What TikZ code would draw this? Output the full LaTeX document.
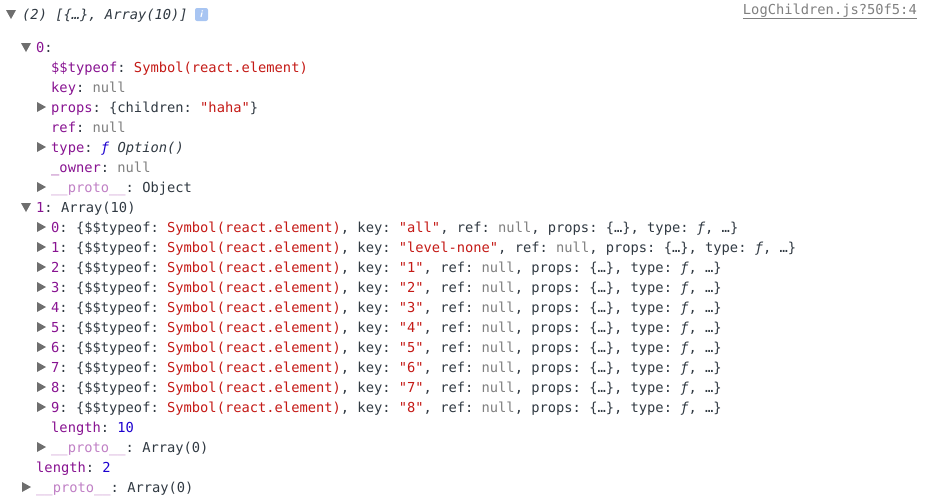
\documentclass[tikz,border=0pt]{standalone}
\usepackage{fontspec}
\setmonofont{DejaVu Sans Mono}
\definecolor{kp}{HTML}{881391}
\definecolor{pp}{HTML}{C080C5}
\definecolor{gr}{HTML}{808080}
\definecolor{rd}{HTML}{C41A16}
\definecolor{bl}{HTML}{1C00CF}
\definecolor{tri}{HTML}{6E6E6E}
\definecolor{dk}{HTML}{303942}
\definecolor{ib}{HTML}{A8C5F2}
\newcommand\K[1]{\textcolor{kp}{#1}}
\newcommand\PP[1]{\textcolor{pp}{#1}}
\newcommand\NU{\textcolor{gr}{null}}
\newcommand\RS[1]{\textcolor{rd}{#1}}
\newcommand\BL[1]{\textcolor{bl}{#1}}
\newcommand\SYM{\RS{Symbol(react.element)}}
\newcommand\ROW[2]{\K{#1}: \{\$\$typeof: \SYM, key: \RS{"#2"}, ref: \NU, props: \{…\}, type: \textit{ƒ}, …\}}
\begin{document}
\begin{tikzpicture}[x=1pt,y=-1pt,
  ln/.style={anchor=base west,inner sep=0pt,text=dk,font=\ttfamily\fontsize{13.75}{16}\selectfont},
  tr/.style={fill=tri,draw=none}]
\useasboundingbox (0,0) rectangle (935,498);
\newcommand\TD[2]{\fill[tri] (#1-5,#2-4) -- (#1+5,#2-4) -- (#1,#2+5) -- cycle;}
\newcommand\TR[2]{\fill[tri] (#1-4,#2-5) -- (#1+5,#2) -- (#1-4,#2+5) -- cycle;}
% header
\TD{11}{14}
\node[ln] (h) at (22,19) {\textit{(2) [\{…\}, Array(10)]}};
\fill[ib,rounded corners=2] (195,8) rectangle (208,21);
\node[font=\sffamily\bfseries\fontsize{10}{10}\selectfont,text=white,inner sep=0pt] (info) at (201.5,14.5) {\textit{i}};
\node[ln,anchor=base east,text=gr] (src) at (917,14) {LogChildren.js?50f5:4};
\draw[gr,line width=0.6] (src.south west) ++(0,1.5) -- ++(174,0);
% 0
\TD{26}{47}
\node[ln] (z) at (36,52) {\K{0}:};
\node[ln] (a1) at (51,72) {\K{\$\$typeof}: \SYM};
\node[ln] (a2) at (51,92) {\K{key}: \NU};
\TR{41}{107}
\node[ln] (a3) at (51,112) {\K{props}: \{children: \RS{"haha"}\}};
\node[ln] (a4) at (51,132) {\K{ref}: \NU};
\TR{41}{147}
\node[ln] (a5) at (51,152) {\K{type}: \BL{\textit{ƒ}} \textit{Option()}};
\node[ln] (a6) at (51,172) {\K{\_owner}: \NU};
\TR{41}{187}
\node[ln] (a7) at (51,192) {\PP{\_\_proto\_\_}: Object};
% 1
\TD{26}{207}
\node[ln] (o) at (36,212) {\K{1}: Array(10)};
\foreach \i/\k [count=\n from 0] in {0/all,1/level-none,2/1,3/2,4/3,5/4,6/5,7/6,8/7,9/8}{
  \TR{41}{227+20*\n}
  \node[ln] (r\i) at (51,232+20*\n) {\ROW{\i}{\k}};
}
\node[ln] (l10) at (51,432) {\K{length}: \BL{10}};
\TR{41}{447}
\node[ln] (p1) at (51,452) {\PP{\_\_proto\_\_}: Array(0)};
\node[ln] (l2) at (36,472) {\K{length}: \BL{2}};
\TR{26}{487}
\node[ln] (p2) at (36,492) {\PP{\_\_proto\_\_}: Array(0)};
\end{tikzpicture}
\end{document}
